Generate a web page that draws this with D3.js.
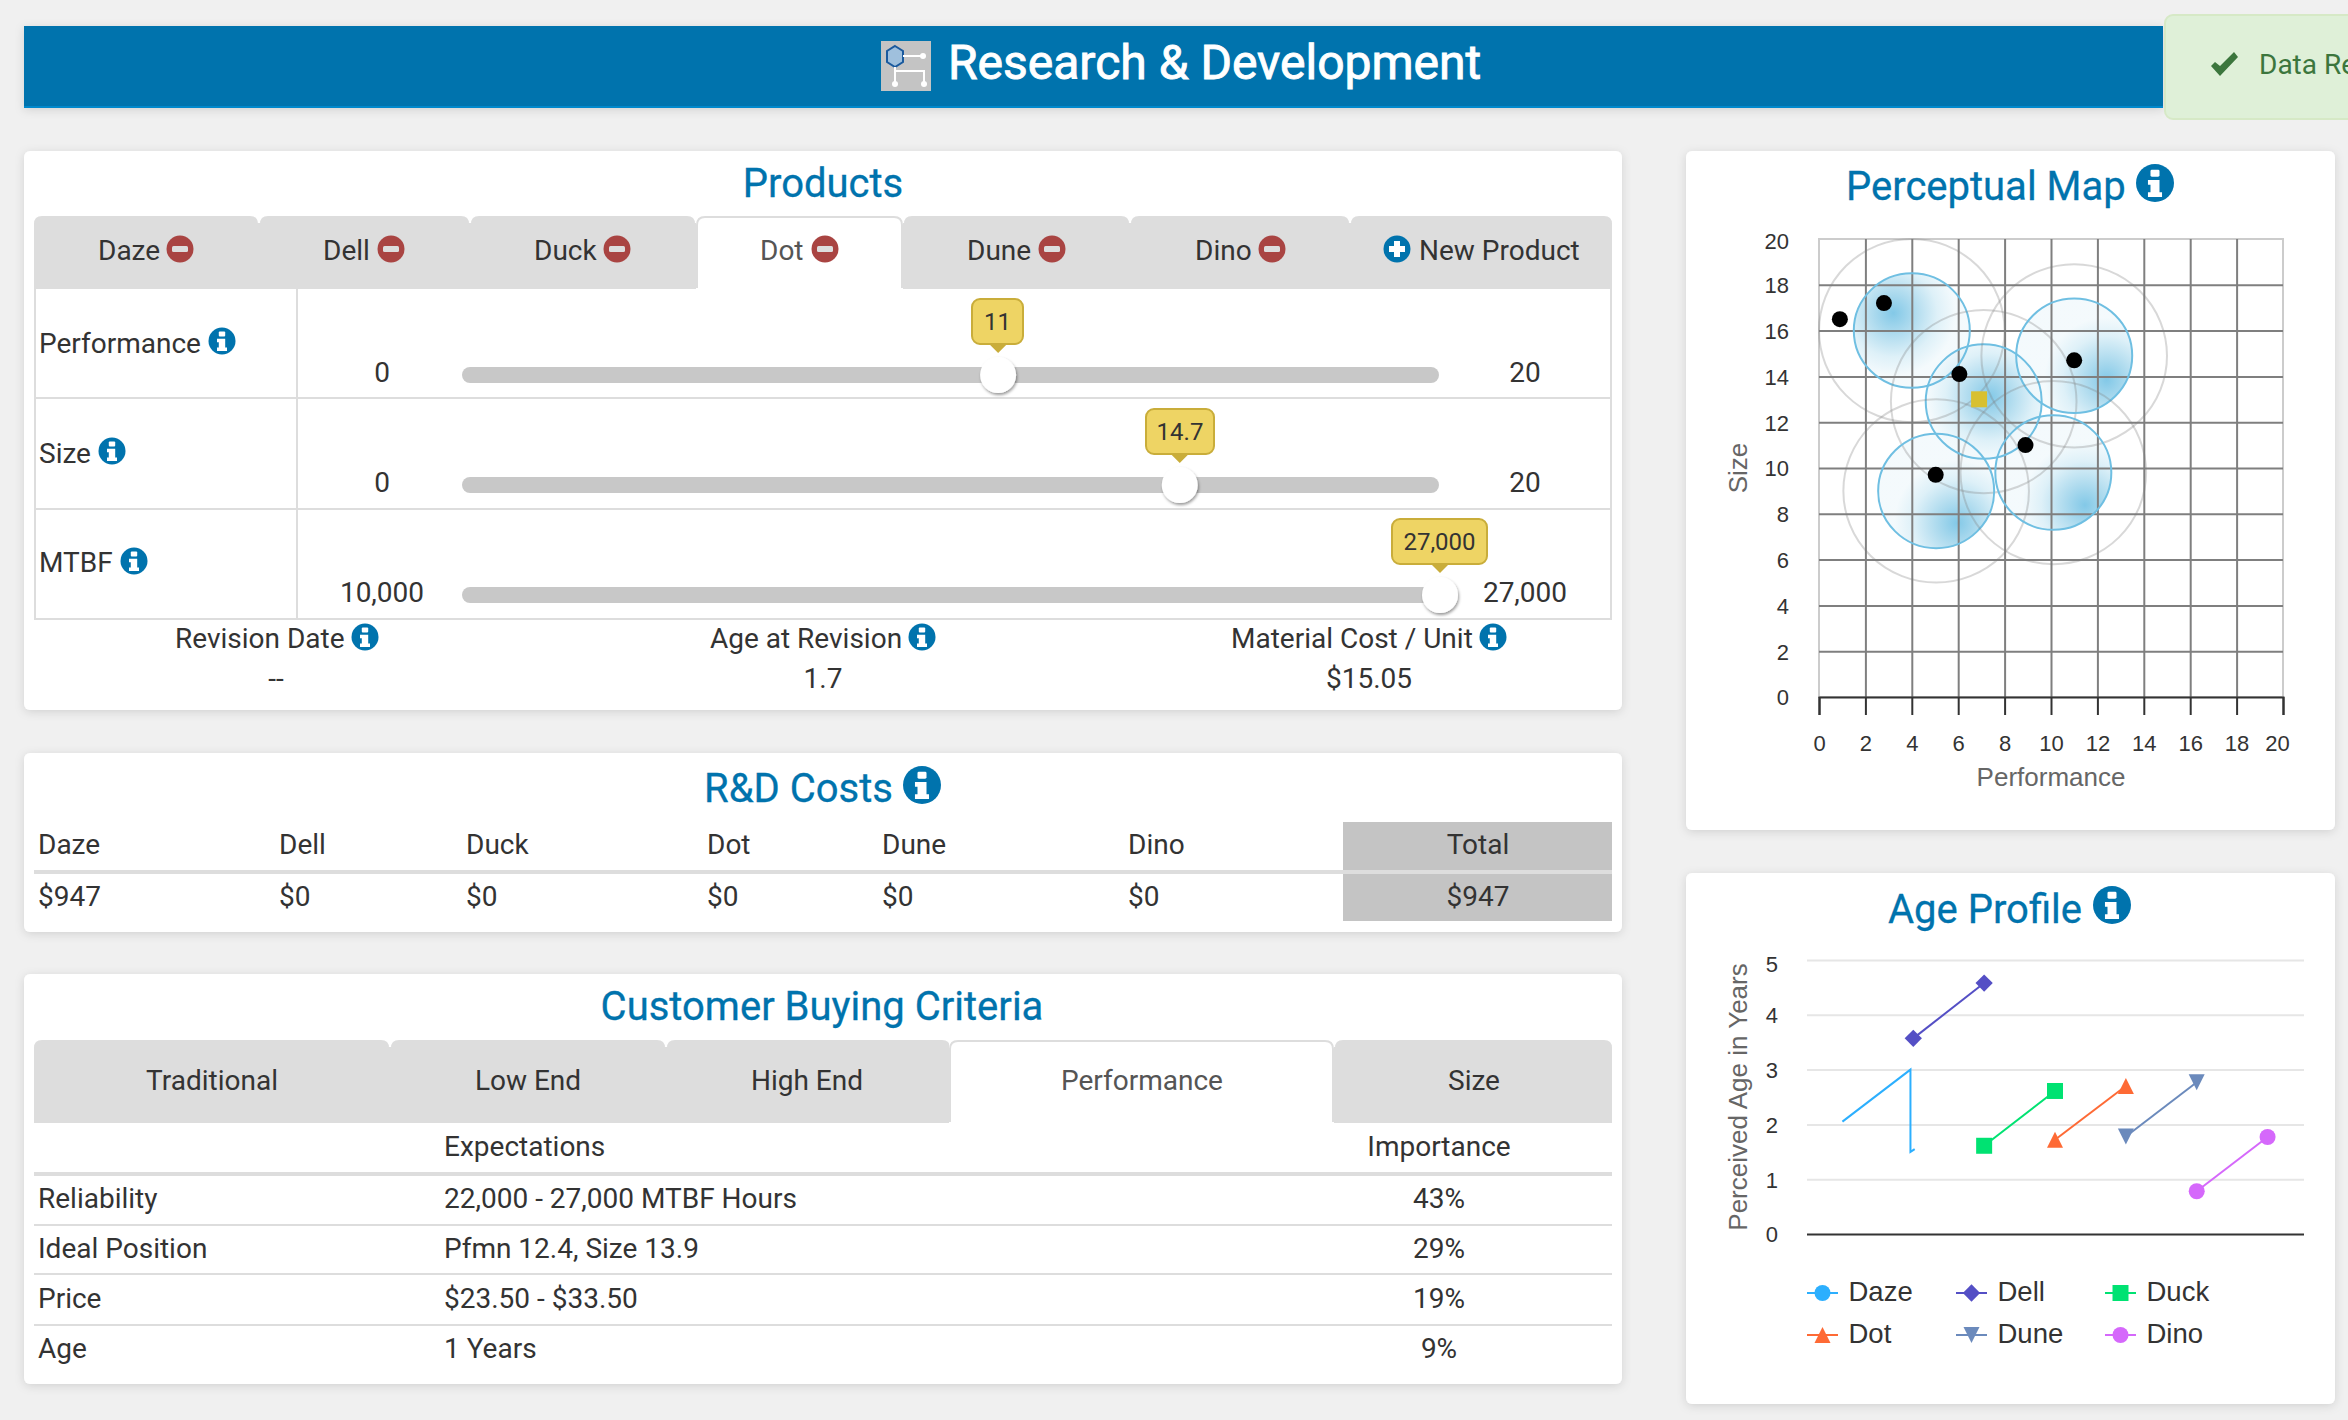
<!DOCTYPE html>
<html>
<head>
<meta charset="utf-8">
<script src="https://cdn.jsdelivr.net/npm/d3@7"></script>
<style>
html, body { margin: 0; padding: 0; background: #f0f0f0; overflow: hidden; }
svg { display: block; }
text { font-family: Roboto, sans-serif; }
.chart text { font-family: "Liberation Sans", Arial, sans-serif; }
</style>
</head>
<body>
<svg id="svg1" width="2348" height="1420"></svg>
<script>
// products and sliders
var productTabs = ['Daze', 'Dell', 'Duck', 'Dot', 'Dune', 'Dino'];
var sliderNames = ['Performance', 'Size', 'MTBF'];
var sliderMin = [0, 0, 10000];
var sliderMax = [20, 20, 27000];
var sliderValues = [11, 14.7, 27000];
var statNames = ['Revision Date', 'Age at Revision', 'Material Cost / Unit'];
var statValues = ['--', '1.7', '$15.05'];

// R&D costs
var costNames = ['Daze', 'Dell', 'Duck', 'Dot', 'Dune', 'Dino'];
var costValues = [947, 0, 0, 0, 0, 0];

// customer buying criteria
var segmentTabs = ['Traditional', 'Low End', 'High End', 'Performance', 'Size'];
var criteriaNames = ['Reliability', 'Ideal Position', 'Price', 'Age'];
var criteriaExpect = ['22,000 - 27,000 MTBF Hours', 'Pfmn 12.4, Size 13.9', '$23.50 - $33.50', '1 Years'];
var criteriaImportance = ['43%', '29%', '19%', '9%'];

// perceptual map
var segmentX = [4.0, 7.1, 11.0, 5.05, 10.1];
var segmentY = [16.0, 12.9, 14.9, 9.0, 9.8];
var idealX = [3.2, 7.37, 12.4, 5.95, 11.47];
var idealY = [16.77, 13.1, 13.84, 7.6, 8.38];
var fineCut = 2.5;
var roughCut = 4;
var productPfmn = [0.9, 2.8, 6.05, 11.0, 8.9, 5.03];
var productSize = [16.5, 17.2, 14.1, 14.7, 11.0, 9.7];
var revisedPoint = [6.9, 13.0];

// age profile
var ageNames = ['Daze', 'Dell', 'Duck', 'Dot', 'Dune', 'Dino'];
var ageDaze = [[0, 2.05], [0.96, 3.0], [0.96, 1.5], [1.02, 1.55]];
var ageDell = [[1, 3.57], [2, 4.58]];
var ageDuck = [[2, 1.61], [3, 2.61]];
var ageDot = [[3, 1.72], [4, 2.7]];
var ageDune = [[4, 1.78], [5, 2.77]];
var ageDino = [[5, 0.78], [6, 1.77]];

var svg = d3.select('#svg1');
var blue = '#0073ad';
var dark = '#333333';
var lineGray = '#dddddd';

var defs = svg.append('defs');
defs.append('filter').attr('id', 'soft').attr('x', '-10%').attr('y', '-10%').attr('width', '120%').attr('height', '125%')
    .append('feDropShadow').attr('dx', 0).attr('dy', 2).attr('stdDeviation', 5)
    .attr('flood-color', '#000').attr('flood-opacity', 0.13);
defs.append('filter').attr('id', 'knob').attr('x', '-30%').attr('y', '-30%').attr('width', '160%').attr('height', '160%')
    .append('feDropShadow').attr('dx', 1).attr('dy', 2).attr('stdDeviation', 1.5)
    .attr('flood-color', '#000').attr('flood-opacity', 0.4);

function label(parent, str, x, y, size, color, anchor) {
    return parent.append('text').attr('x', x).attr('y', y).attr('font-size', size)
        .attr('fill', color || dark).attr('text-anchor', anchor || 'start').text(str);
}

function title(str, x, y, anchor) {
    return label(svg, str, x, y, 40, blue, anchor).attr('stroke', blue).attr('stroke-width', 0.3);
}

function drawPanel(x, y, x2, y2) {
    svg.append('rect').attr('x', x).attr('y', y).attr('width', x2 - x).attr('height', y2 - y)
        .attr('rx', 6).attr('fill', '#fff').attr('filter', 'url(#soft)');
}

// font-awesome style info circle
function drawInfo(x, y, r) {
    var g = svg.append('g').attr('transform', 'translate(' + x + ',' + y + ') scale(' + (r / 13.5) + ')');
    g.append('circle').attr('r', 13.5).attr('fill', blue);
    g.append('rect').attr('x', -3.2).attr('y', -9.5).attr('width', 6.4).attr('height', 5).attr('rx', 1).attr('fill', '#fff');
    g.append('path').attr('d', 'M-5,-2.2H3.2V6.5H5V10H-5V6.5H-3.2V1.3H-5Z').attr('fill', '#fff');
}

function drawMinus(x, y) {
    svg.append('circle').attr('cx', x).attr('cy', y).attr('r', 13.5).attr('fill', '#a94442');
    svg.append('rect').attr('x', x - 8).attr('y', y - 3).attr('width', 16).attr('height', 6).attr('rx', 1.5).attr('fill', '#dddddd');
}

function drawPlus(x, y) {
    svg.append('circle').attr('cx', x).attr('cy', y).attr('r', 13.5).attr('fill', blue);
    svg.append('path').attr('d', 'M' + (x - 8) + ',' + y + 'H' + (x + 8) + 'M' + x + ',' + (y - 8) + 'V' + (y + 8))
        .attr('stroke', '#fff').attr('stroke-width', 6);
}

// tab shape with rounded top corners
function tabPath(x, y, x2, y2) {
    return 'M' + x + ',' + y2 + 'V' + (y + 8) + 'Q' + x + ',' + y + ' ' + (x + 8) + ',' + y +
        'H' + (x2 - 8) + 'Q' + x2 + ',' + y + ' ' + x2 + ',' + (y + 8) + 'V' + y2 + 'Z';
}

function drawTabs(edges, y, y2, active) {
    edges.forEach(function (e, i) {
        if (i != active) {
            svg.append('path').attr('d', tabPath(e[0], y, e[1], y2)).attr('fill', lineGray);
        }
    });
    // tabs only part at the notches on top
    svg.append('rect').attr('x', edges[0][0]).attr('y', y + 7).attr('width', edges[edges.length - 1][1] - edges[0][0])
        .attr('height', y2 - y - 7).attr('fill', lineGray);
    var a = edges[active];
    svg.append('rect').attr('x', a[0] - 1).attr('y', y).attr('width', a[1] - a[0] + 2).attr('height', y2 - y).attr('fill', '#fff');
    svg.append('path').attr('d', tabPath(a[0], y + 1, a[1], y2 - 2))
        .attr('fill', '#fff').attr('stroke', lineGray).attr('stroke-width', 2);
    svg.append('rect').attr('x', a[0] + 1).attr('y', y2 - 3).attr('width', a[1] - a[0] - 2).attr('height', 2).attr('fill', '#fff');
}

/* page header */
svg.append('rect').attr('x', 24).attr('y', 26).attr('width', 2139).attr('height', 82).attr('fill', blue).attr('filter', 'url(#soft)');
svg.append('rect').attr('x', 24).attr('y', 106).attr('width', 2139).attr('height', 2).attr('fill', '#0088cc');
svg.append('rect').attr('x', 881).attr('y', 41).attr('width', 50).attr('height', 50).attr('fill', '#c4c4c4');
svg.append('path').attr('d', 'M895,46L903,51V62L895,67L887,62V51Z').attr('fill', '#9fc0dd').attr('stroke', '#1a5a9e').attr('stroke-width', 2);
svg.append('path').attr('d', 'M903,56H922M895,67V84M895,71H924V84').attr('fill', 'none').attr('stroke', '#fff').attr('stroke-width', 2);
svg.append('g').attr('fill', '#fff').selectAll('circle').data([[923, 56], [895, 84], [924, 84]]).join('circle')
    .attr('cx', function (d) { return d[0]; }).attr('cy', function (d) { return d[1]; }).attr('r', 3);
label(svg, 'Research & Development', 948, 79, 48, '#fff').attr('stroke', '#fff').attr('stroke-width', 0.9);

// alert at the right edge
svg.append('rect').attr('x', 2165).attr('y', 15).attr('width', 200).attr('height', 104).attr('rx', 8)
    .attr('fill', '#dff0d8').attr('stroke', '#d6e9c6').attr('stroke-width', 2);
svg.append('path').attr('d', 'M2211,66L2215,62L2220,66L2234,52L2238,57L2220,76Z').attr('fill', '#3c763d');
label(svg, 'Data Re', 2259, 74, 28, '#3c763d');

/* Products */
drawPanel(24, 151, 1622, 710);
title('Products', 823, 197, 'middle');

var productEdges = [[34, 258], [260, 469], [471, 695], [697, 902], [904, 1129], [1131, 1349], [1351, 1612]];
drawTabs(productEdges, 216, 289, 3);
var tabTextX = [98, 323, 534, 760, 967, 1195];
var tabIconX = [180, 391, 617, 825, 1052, 1272];
productTabs.forEach(function (name, i) {
    label(svg, name, tabTextX[i], 260, 28, i == 3 ? '#555' : dark);
    drawMinus(tabIconX[i], 249);
});
drawPlus(1397, 249);
label(svg, 'New Product', 1419, 260, 28);

var rowLines = [398, 509, 619];
svg.append('g').attr('stroke', lineGray).attr('stroke-width', 2).selectAll('line').data(rowLines).join('line')
    .attr('x1', 34).attr('x2', 1612).attr('y1', function (d) { return d; }).attr('y2', function (d) { return d; });
svg.append('g').attr('stroke', lineGray).attr('stroke-width', 2).selectAll('line').data([35, 297, 1611]).join('line')
    .attr('x1', function (d) { return d; }).attr('x2', function (d) { return d; }).attr('y1', 289).attr('y2', 619);

var rowBaseline = [353, 463, 572];
var rowIconX = [222, 112, 134];
var rowIconY = [341, 451, 561];
var trackY = [375, 485, 595];
var tipBox = [[972, 1023, 299, 344], [1146, 1214, 409, 454], [1392, 1487, 519, 564]];

sliderNames.forEach(function (name, i) {
    label(svg, name, 39, rowBaseline[i], 28);
    drawInfo(rowIconX[i], rowIconY[i], 13.5);

    var fmt = d3.format(',');
    var sx = d3.scaleLinear().domain([sliderMin[i], sliderMax[i]]).range([458, 1440]);
    svg.append('rect').attr('x', 462).attr('y', trackY[i] - 8).attr('width', 977).attr('height', 16).attr('rx', 8).attr('fill', '#c8c8c8');
    label(svg, fmt(sliderMin[i]), 382, trackY[i] + 7, 28, dark, 'middle');
    label(svg, fmt(sliderMax[i]), 1525, trackY[i] + 7, 28, dark, 'middle');

    var hx = sx(sliderValues[i]);
    var b = tipBox[i];
    svg.append('path').attr('d', 'M' + (hx - 9) + ',' + b[3] + 'H' + (hx + 9) + 'L' + hx + ',' + (b[3] + 9) + 'Z').attr('fill', '#c9ad3a');
    svg.append('rect').attr('x', b[0]).attr('y', b[2]).attr('width', b[1] - b[0]).attr('height', b[3] - b[2]).attr('rx', 8)
        .attr('fill', '#eed464').attr('stroke', '#c9ad3a').attr('stroke-width', 2);
    label(svg, fmt(sliderValues[i]), (b[0] + b[1]) / 2, (b[2] + b[3]) / 2 + 8, 24, dark, 'middle');
    svg.append('circle').attr('cx', hx).attr('cy', trackY[i]).attr('r', 18).attr('fill', '#fff')
        .attr('filter', 'url(#knob)');
});

var statTextX = [175, 710, 1231];
var statIconX = [365, 922, 1493];
var statCenter = [276, 823, 1369];
statNames.forEach(function (name, i) {
    label(svg, name, statTextX[i], 648, 28);
    drawInfo(statIconX[i], 637, 13.5);
    label(svg, statValues[i], statCenter[i], 688, 28, dark, 'middle');
});

/* R&D Costs */
drawPanel(24, 753, 1622, 932);
title('R&D Costs', 704, 802);
drawInfo(922, 785, 19);
svg.append('rect').attr('x', 1343).attr('y', 822).attr('width', 269).attr('height', 48).attr('fill', '#c4c4c4');
svg.append('rect').attr('x', 1343).attr('y', 873).attr('width', 269).attr('height', 48).attr('fill', '#c4c4c4');
svg.append('rect').attr('x', 34).attr('y', 870).attr('width', 1578).attr('height', 4).attr('fill', lineGray);
var costX = [38, 279, 466, 707, 882, 1128];
costNames.forEach(function (name, i) {
    label(svg, name, costX[i], 854, 28);
    label(svg, '$' + costValues[i], costX[i], 906, 28);
});
label(svg, 'Total', 1478, 854, 28, dark, 'middle');
label(svg, '$' + d3.sum(costValues), 1478, 906, 28, dark, 'middle');

/* Customer Buying Criteria */
drawPanel(24, 974, 1622, 1384);
title('Customer Buying Criteria', 822, 1020, 'middle');
var segmentEdges = [[34, 389], [391, 665], [667, 950], [950, 1333], [1335, 1612]];
drawTabs(segmentEdges, 1040, 1123, 3);
var segmentCenter = [212, 528, 807, 1142, 1474];
segmentTabs.forEach(function (name, i) {
    label(svg, name, segmentCenter[i], 1090, 28, i == 3 ? '#555' : dark, 'middle');
});
label(svg, 'Expectations', 444, 1156, 28);
label(svg, 'Importance', 1439, 1156, 28, dark, 'middle');
svg.append('rect').attr('x', 34).attr('y', 1172).attr('width', 1578).attr('height', 4).attr('fill', lineGray);
var criteriaLines = [1225, 1274, 1325];
svg.append('g').attr('stroke', lineGray).attr('stroke-width', 2).selectAll('line').data(criteriaLines).join('line')
    .attr('x1', 34).attr('x2', 1612).attr('y1', function (d) { return d; }).attr('y2', function (d) { return d; });
var criteriaBase = [1208, 1258, 1308, 1358];
criteriaNames.forEach(function (name, i) {
    label(svg, name, 38, criteriaBase[i], 28);
    label(svg, criteriaExpect[i], 444, criteriaBase[i], 28);
    label(svg, criteriaImportance[i], 1439, criteriaBase[i], 28, dark, 'middle');
});

/* Perceptual Map */
drawPanel(1686, 151, 2335, 830);
title('Perceptual Map', 1846, 200);
drawInfo(2155, 183, 19);

var mapG = svg.append('g').attr('class', 'chart');
var mapX = d3.scaleLinear().domain([0, 20]).range([1819, 2283]);
var mapY = d3.scaleLinear().domain([0, 20]).range([697, 239]);
var mapTicks = d3.range(0, 21, 2);

// segment fills go under the grid, each with a gradient around its ideal spot
segmentX.forEach(function (sx, i) {
    var grad = defs.append('radialGradient').attr('id', 'seg' + i).attr('gradientUnits', 'userSpaceOnUse')
        .attr('cx', mapX(idealX[i])).attr('cy', mapY(idealY[i])).attr('r', mapX(2.7) - mapX(0));
    grad.append('stop').attr('offset', 0).attr('stop-color', '#6dbfe3');
    grad.append('stop').attr('offset', 0.35).attr('stop-color', '#a3d6ec');
    grad.append('stop').attr('offset', 0.7).attr('stop-color', '#d8eef7');
    grad.append('stop').attr('offset', 1).attr('stop-color', '#f2f9fc');
    mapG.append('ellipse').attr('cx', mapX(sx)).attr('cy', mapY(segmentY[i]))
        .attr('rx', mapX(fineCut) - mapX(0)).attr('ry', mapY(0) - mapY(fineCut))
        .attr('fill', 'url(#seg' + i + ')').attr('fill-opacity', 0.85);
});

mapG.append('rect').attr('x', mapX(0)).attr('y', mapY(20)).attr('width', mapX(20) - mapX(0)).attr('height', mapY(0) - mapY(20))
    .attr('fill', 'none').attr('stroke', '#cccccc').attr('stroke-width', 2);

var gridX = mapG.append('g').attr('transform', 'translate(0,' + mapY(0) + ')')
    .call(d3.axisBottom(mapX).tickValues(mapTicks.slice(1, -1)).tickSize(mapY(20) - mapY(0)).tickFormat(''));
var gridY = mapG.append('g').attr('transform', 'translate(' + mapX(0) + ',0)')
    .call(d3.axisLeft(mapY).tickValues(mapTicks.slice(1, -1)).tickSize(mapX(0) - mapX(20)).tickFormat(''));
[gridX, gridY].forEach(function (g) {
    g.select('.domain').remove();
    g.selectAll('line').attr('stroke', '#7f7f7f').attr('stroke-width', 2);
});

segmentX.forEach(function (sx, i) {
    mapG.append('ellipse').attr('cx', mapX(sx)).attr('cy', mapY(segmentY[i]))
        .attr('rx', mapX(fineCut) - mapX(0)).attr('ry', mapY(0) - mapY(fineCut))
        .attr('fill', 'none').attr('stroke', '#6fbfe2').attr('stroke-width', 2);
    mapG.append('ellipse').attr('cx', mapX(sx)).attr('cy', mapY(segmentY[i]))
        .attr('rx', mapX(roughCut) - mapX(0)).attr('ry', mapY(0) - mapY(roughCut))
        .attr('fill', 'none').attr('stroke', '#7f7f7f').attr('stroke-opacity', 0.3).attr('stroke-width', 2);
});

var axisX = mapG.append('g').attr('transform', 'translate(0,' + mapY(0) + ')')
    .call(d3.axisBottom(mapX).tickValues(mapTicks).tickSizeOuter(0).tickSize(18).tickPadding(20));
axisX.select('.domain').attr('stroke', '#333').attr('stroke-width', 2);
axisX.selectAll('line').attr('stroke', '#333').attr('stroke-width', 2);
axisX.selectAll('text').attr('font-size', 22).attr('fill', dark).attr('font-family', '"Liberation Sans", Arial, sans-serif')
    .attr('dx', function (d) { return d == 20 ? -6 : 0; });

var axisY = mapG.append('g').attr('transform', 'translate(' + mapX(0) + ',0)')
    .call(d3.axisLeft(mapY).tickValues(mapTicks).tickSize(0).tickPadding(30));
axisY.select('.domain').remove();
axisY.selectAll('text').attr('font-size', 22).attr('fill', dark).attr('font-family', '"Liberation Sans", Arial, sans-serif')
    .attr('dy', function (d) { return d == 20 ? '0.44em' : '0.36em'; });

mapG.selectAll('circle.product').data(productPfmn).join('circle').attr('class', 'product')
    .attr('cx', function (d) { return mapX(d); })
    .attr('cy', function (d, i) { return mapY(productSize[i]); })
    .attr('r', 8).attr('fill', '#000');
mapG.append('path').attr('transform', 'translate(' + mapX(revisedPoint[0]) + ',' + mapY(revisedPoint[1]) + ')')
    .attr('d', d3.symbol(d3.symbolSquare, 256)()).attr('fill', '#d8c030');

label(mapG, 'Performance', 2051, 786, 26, '#666', 'middle');
label(mapG, 'Size', 0, 0, 26, '#666', 'middle').attr('transform', 'translate(1747,468) rotate(-90)');

/* Age Profile */
drawPanel(1686, 873, 2335, 1404);
title('Age Profile', 1888, 923);
drawInfo(2112, 905, 19);

var ageG = svg.append('g').attr('class', 'chart');
var ageX = d3.scaleLinear().domain([-0.5, 6.5]).range([1807, 2303]);
var ageY = d3.scaleLinear().domain([0, 5]).range([1234, 960]);

var gridAge = ageG.append('g').attr('transform', 'translate(1807,0)')
    .call(d3.axisRight(ageY).ticks(5).tickSize(497).tickFormat(''));
gridAge.select('.domain').remove();
gridAge.selectAll('line').attr('stroke', function (d) { return d == 0 ? '#333' : '#e6e6e6'; }).attr('stroke-width', 2);

var axisAge = ageG.append('g').attr('transform', 'translate(1807,0)')
    .call(d3.axisLeft(ageY).ticks(5).tickSize(0).tickPadding(29).tickFormat(d3.format('d')));
axisAge.select('.domain').remove();
axisAge.selectAll('text').attr('font-size', 22).attr('fill', dark).attr('font-family', '"Liberation Sans", Arial, sans-serif')
    .attr('dy', function (d) { return d == 5 ? '0.5em' : '0.36em'; });

var triangleUp = {
    draw: function (c, s) {
        var r = Math.sqrt(s) / 2;
        c.moveTo(0, -r); c.lineTo(r, r); c.lineTo(-r, r); c.closePath();
    }
};
var triangleDown = {
    draw: function (c, s) {
        var r = Math.sqrt(s) / 2;
        c.moveTo(0, r); c.lineTo(r, -r); c.lineTo(-r, -r); c.closePath();
    }
};
var ageColors = ['#2caffe', '#544fc5', '#00e272', '#fe6a35', '#6b8abc', '#d568fb'];
var ageSeries = [ageDaze, ageDell, ageDuck, ageDot, ageDune, ageDino];
var ageSymbols = [d3.symbolCircle, d3.symbolDiamond2, d3.symbolSquare, triangleUp, triangleDown, d3.symbolCircle];
var ageSizes = [201, 190, 256, 256, 256, 201];

var ageLine = d3.line().x(function (d) { return ageX(d[0]); }).y(function (d) { return ageY(d[1]); });

ageSeries.forEach(function (values, i) {
    ageG.append('path').attr('d', ageLine(values)).attr('fill', 'none').attr('stroke', ageColors[i]).attr('stroke-width', 2);
    if (i > 0) {
        ageG.selectAll('path.m' + i).data(values).join('path').attr('class', 'm' + i)
            .attr('transform', function (d) { return 'translate(' + ageX(d[0]) + ',' + ageY(d[1]) + ')'; })
            .attr('d', d3.symbol(ageSymbols[i], ageSizes[i])()).attr('fill', ageColors[i]);
    }
});

// legend
var legendX = [1807, 1956, 2105];
var legendY = [1293, 1335];
ageNames.forEach(function (name, i) {
    var lx = legendX[i % 3];
    var ly = legendY[Math.floor(i / 3)];
    ageG.append('line').attr('x1', lx).attr('x2', lx + 31).attr('y1', ly).attr('y2', ly).attr('stroke', ageColors[i]).attr('stroke-width', 2);
    ageG.append('path').attr('transform', 'translate(' + (lx + 15.5) + ',' + ly + ')')
        .attr('d', d3.symbol(ageSymbols[i], ageSizes[i])()).attr('fill', ageColors[i]);
    label(ageG, name, lx + 41.5, ly + 8, 27.5, dark);
});

label(ageG, 'Perceived Age in Years', 0, 0, 26, '#666', 'middle').attr('transform', 'translate(1747,1097) rotate(-90)');
</script>
</body>
</html>
